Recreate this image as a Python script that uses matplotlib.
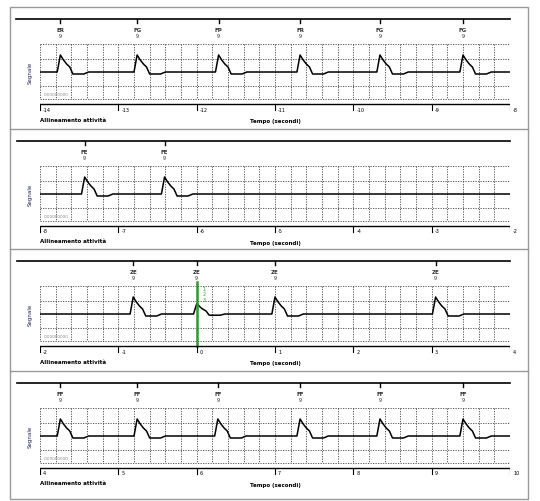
import matplotlib
matplotlib.use("Agg")
import matplotlib.pyplot as plt
import numpy as np

ranges = [(-14, -8), (-8, -2), (-2, 4), (4, 10)]
beats = [
    [-13.74, -12.76, -11.72, -10.68, -9.66, -8.6],
    [-7.43, -6.41],
    [-0.81, 0.0, 1.0, 3.05],
    [4.26, 5.24, 6.27, 7.32, 8.34, 9.4],
]
beat_amp = [[1, 1, 1, 1, 1, 1], [1, 1], [1, 0.6, 1, 1], [1, 1, 1, 1, 1, 1]]
tmpl_t = [-0.12, -0.04, 0.0, 0.04, 0.08, 0.12, 0.16, 0.3, 0.36]
tmpl_v = [0, 0, 17, 12, 8, 5, -2, -2, 0]
event_labels = [["ER", "FG", "FP", "FR", "FG", "FG"], ["FE", "FE"],
                ["ZE", "ZE", "ZE", "ZE"], ["FF", "FF", "FF", "FF", "FF", "FF"]]

fig = plt.figure(figsize=(5.4, 5.02), dpi=100)
W, H = 540, 502
# outer border
bax = fig.add_axes([0, 0, 1, 1]); bax.set_xlim(0, W); bax.set_ylim(H, 0); bax.axis("off")
bax.add_patch(plt.Rectangle((10, 8), 518, 492, fill=False, ec="#999999", lw=1))
tops = [8, 130, 250, 372]
for y in tops[1:]:
    bax.plot([10, 528], [y, y], color="#999999", lw=1)

for k, (x0, x1) in enumerate(ranges):
    top = tops[k]
    hgt = 122
    ax = fig.add_axes([40 / W, 1 - (top + hgt) / H, 470 / W, hgt / H])
    ax.set_xlim(x0, x1); ax.set_ylim(hgt, 0); ax.axis("off")
    # event line
    ax.plot([x0 - 0.3, x1], [12, 12], color="k", lw=1.2, clip_on=False)
    for b, lab in zip(beats[k], event_labels[k]):
        ax.plot([b, b], [12, 16], color="k", lw=1)
        ax.text(b, 22, lab, fontsize=4, ha="center", va="center", color="#333", fontweight="bold")
        ax.text(b, 29, "9", fontsize=3.5, ha="center", va="center", color="#333")
    # grid
    for gx in np.arange(x0, x1 + 1e-9, 0.2):
        ax.plot([gx, gx], [37, 92], color="#444", lw=0.6, ls=(0, (1.5, 1.5)))
    for gy in [37, 52, 79, 92]:
        ax.plot([x0, x1], [gy, gy], color="#444", lw=0.6, ls=(0, (1.5, 1.5)))
    # trace
    t = np.arange(x0, x1, 0.01)
    v = np.zeros_like(t)
    for b, a in zip(beats[k], beat_amp[k]):
        v += a * np.interp(t, np.array(tmpl_t) + b, tmpl_v, left=0, right=0)
    ax.plot(t, 65 - v, color="k", lw=1.1)
    ax.text(x0 - 0.12, 65, "Segnale", rotation=90, fontsize=4, ha="center", va="center", color="#225")
    ax.text(x0 + 0.05, 88, "0.00000000", fontsize=3, color="#888")
    if k == 2:
        ax.plot([0, 0], [33, 97], color="#2a9a2a", lw=1.8)
        ax.text(0.08, 45, "1\n2\n3", fontsize=3.5, color="#2a9a2a", va="center")
    # x axis
    ax.plot([x0, x1], [97, 97], color="k", lw=1)
    for i, tv in enumerate(range(x0, x1 + 1)):
        ax.plot([tv, tv], [97, 103], color="k", lw=0.8)
        ax.text(tv + 0.04, 102, str(tv), fontsize=3.5, va="center")
    ax.text(x0, 112, "Allineamento attività", fontsize=4, fontweight="bold", va="center")
    ax.text((x0 + x1) / 2, 114, "Tempo (secondi)", fontsize=4, fontweight="bold", ha="center", va="center")

fig.savefig("out.png", dpi=100)
